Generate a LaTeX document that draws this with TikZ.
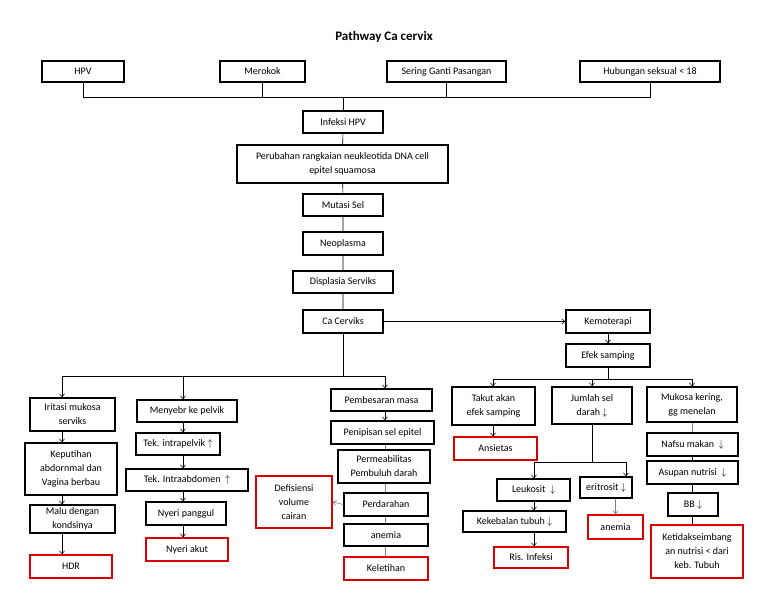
\documentclass[tikz,border=0pt]{standalone}
\usepackage{fontspec}
\setmainfont{Carlito}
\usetikzlibrary{arrows.meta}
\begin{document}
\begin{tikzpicture}[x=1pt,y=-1pt,
 bx/.style={draw=black,line width=1.4pt,fill=white,inner sep=0pt,align=center,font=\fontsize{10}{14}\selectfont},
 rb/.style={bx,draw=red!85!black},
 ar/.style={-{Straight Barb[length=3pt,width=5pt]},line width=0.6pt},
 ln/.style={line width=0.6pt}]
\useasboundingbox (0,0) rectangle (768,594);
\newcommand\B[6][bx]{\node[#1,minimum width=#4-#2,minimum height=#5-#3] (#6) at ({(#2+#4)/2},{(#3+#5)/2})}
\node[font=\bfseries\fontsize{13}{15}\selectfont] (t) at (384,37) {Pathway Ca cervix};
\B{42}{61}{124}{82}{hpv}{HPV};
\B{220}{61}{305}{82}{mer}{Merokok};
\B{387}{61}{506}{82}{sgp}{Sering Ganti Pasangan};
\B{580}{61}{720}{82}{hs}{Hubungan seksual < 18};
\B{303}{111}{383}{133}{inf}{Infeksi HPV};
\B{237}{145}{448}{183}{per}{Perubahan rangkaian neukleotida DNA cell\\epitel squamosa};
\B{303}{194}{383}{216}{mut}{Mutasi Sel};
\B{303}{232}{383}{255}{neo}{Neoplasma};
\B{293}{271}{393}{293}{dis}{Displasia Serviks};
\B{303}{310}{383}{333}{ca}{Ca Cerviks};
\B{566}{310}{650}{333}{kem}{Kemoterapi};
\B{566}{344}{650}{367}{efs}{Efek samping};
\B{30}{398}{115}{431}{iri}{Iritasi mukosa\\serviks};
\B{25}{443}{117}{495}{kep}{Keputihan\\abdornmal dan\\Vagina berbau};
\B{30}{505}{115}{533}{mal}{Malu dengan\\kondsinya};
\B[rb]{30}{555}{112}{578}{hdr}{HDR};
\B{137}{400}{237}{422}{men}{Menyebr ke pelvik};
\B{136}{433}{220}{455}{tip}{Tek. intrapelvik $\uparrow$};
\B{126}{469}{248}{491}{tia}{Tek. Intraabdomen \ $\uparrow$};
\B{146}{502}{226}{525}{nyp}{Nyeri panggul};
\B[rb]{146}{538}{228}{561}{nya}{Nyeri akut};
\B{331}{389}{432}{411}{pem}{Pembesaran masa};
\B{331}{421}{434}{444}{pen}{Penipisan sel epitel};
\B{338}{450}{430}{483}{prm}{Permeabilitas\\Pembuluh darah};
\B{344}{493}{428}{516}{prd}{Perdarahan};
\B{344}{524}{428}{546}{ane}{anemia};
\B[rb]{344}{557}{428}{580}{kel}{Keletihan};
\B[rb]{256}{476}{332}{528}{def}{Defisiensi\\volume\\cairan};
\B{452}{387}{535}{425}{tak}{Takut akan\\efek samping};
\B{552}{387}{632}{424}{jum}{Jumlah sel\\darah $\downarrow$};
\B{647}{387}{737}{422}{muk}{Mukosa kering,\\gg menelan};
\B[rb]{454}{437}{537}{460}{ans}{Ansietas};
\B{497}{479}{570}{501}{leu}{Leukosit \ $\downarrow$};
\B{580}{477}{632}{498}{eri}{eritrosit $\downarrow$};
\B{463}{511}{566}{532}{kek}{Kekebalan tubuh $\downarrow$};
\B[rb]{494}{547}{568}{568}{ris}{Ris. Infeksi};
\B[rb]{588}{515}{643}{539}{an2}{anemia};
\B{647}{433}{738}{456}{naf}{Nafsu makan \ $\downarrow$};
\B{647}{461}{738}{484}{asu}{Asupan nutrisi \ $\downarrow$};
\B{668}{493}{718}{516}{bb}{BB $\downarrow$};
\B[rb]{651}{525}{743}{578}{ket}{Ketidakseimbang\\an nutrisi < dari\\keb. Tubuh};
\coordinate (h) at (343,97);
\draw[ln] (hpv.south) |- (h) (mer.south) |- (h) (sgp.south) |- (h) (hs.south) |- (h) (h) -- (inf.north);
\draw[ln] (inf) -- (per) (per) -- (mut) (mut) -- (neo) (neo) -- (dis) (dis) -- (ca);
\draw[ar] (ca.east) -- (kem.west);
\draw[ar] (kem) -- (efs);
\coordinate (c1) at (343,376);
\coordinate (xa) at (62,0);
\coordinate (xb) at (183,0);
\coordinate (xc) at (385,0);
\coordinate (xd) at (493,0);
\coordinate (xe) at (534,0);
\coordinate (xf) at (626,0);
\coordinate (xg) at (692,0);
\draw[ln] (ca.south) -- (c1);
\draw[ar] (c1) -| (iri.north -| xa);
\draw[ar] (c1) -| (men.north -| xb);
\draw[ar] (c1) -| (pem.north -| xc);
\draw[ar] (iri.south -| xa) -- (kep.north -| xa);
\draw[ar] (kep.south -| xa) -- (mal.north -| xa);
\draw[ar] (mal.south -| xa) -- (hdr.north -| xa);
\draw[ar] (men.south -| xb) -- (tip.north -| xb);
\draw[ar] (tip.south -| xb) -- (tia.north -| xb);
\draw[ar] (tia.south -| xb) -- (nyp.north -| xb);
\draw[ar] (nyp.south -| xb) -- (nya.north -| xb);
\draw[ar] (pem.south -| xc) -- (pen.north -| xc);
\draw[ln,gray] (pen.south -| xc) -- (prm.north -| xc) (prm.south -| xc) -- (prd.north -| xc) (prd.south -| xc) -- (ane.north -| xc) (ane.south -| xc) -- (kel.north -| xc);
\draw[ar,gray] (prd.west) -- (def.east);
\coordinate (c2) at (608,379);
\draw[ln] (efs.south) -- (c2);
\draw[ar] (c2) -| (tak.north -| xd);
\draw[ar] (c2) -| (jum.north);
\draw[ar] (c2) -| (muk.north -| xg);
\draw[ar] (tak.south -| xd) -- (ans.north -| xd);
\coordinate (c3) at (592,462);
\draw[ln] (jum.south -| c3) -- (c3);
\draw[ar] (c3) -| (leu.north -| xe);
\draw[ar] (c3) -| (eri.north -| xf);
\draw[ar] (leu.south -| xe) -- (kek.north -| xe);
\draw[ar] (kek.south -| xe) -- (ris.north -| xe);
\draw[ar,gray] (eri.south -| an2.north) -- (an2.north);
\draw[ln,gray] (muk.south -| xg) -- (naf.north -| xg);
\draw[ln] (naf.south -| xg) -- (asu.north -| xg) (asu.south -| xg) -- (bb.north -| xg) (bb.south -| xg) -- (ket.north -| xg);
\end{tikzpicture}
\end{document}
